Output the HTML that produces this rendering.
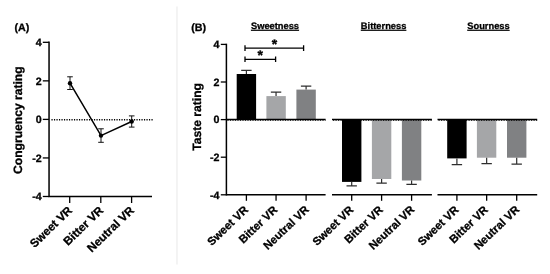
<!DOCTYPE html><html><head><meta charset="utf-8"><style>html,body{margin:0;padding:0;background:#fff}svg{display:block}text{text-rendering:geometricPrecision;font-family:"Liberation Sans",sans-serif;font-weight:bold;fill:#000;stroke:#000;stroke-width:0.3px}</style></head><body>
<svg width="550" height="274" viewBox="0 0 550 274">
<rect width="550" height="274" fill="#fff"/>
<line x1="177" y1="6.5" x2="177" y2="264.5" stroke="#ececec" stroke-width="1.2"/>
<text x="14.4" y="30.9" font-size="10.7">(A)</text>
<g stroke="#000" stroke-width="1.5" fill="none">
<path d="M49.05 41.62V196.48H152"/>
</g><g stroke="#000" stroke-width="1.3" fill="none">
<path d="M49.05 42.32H42.8"/>
<path d="M49.05 80.86H42.8"/>
<path d="M49.05 119.40H42.8"/>
<path d="M49.05 157.94H42.8"/>
<path d="M49.05 196.48H42.8"/>
<path d="M69.7 196.48V203"/>
<path d="M100.8 196.48V203"/>
<path d="M131.6 196.48V203"/>
<path d="M51.449999999999996 119.65H153.2" stroke-width="1.5" stroke-dasharray="1.2 1.3"/>
</g><g stroke="#000" stroke-width="1.5" fill="none">
<path d="M70.0 83.2 L101.0 135.6 L131.7 121.5"/>
</g>
<g stroke="#111" stroke-width="1" fill="none">
<path d="M70.0 76.8V89.5M67.2 76.8h5.6M67.2 89.5h5.6"/>
<path d="M101.0 128.8V142.3M98.2 128.8h5.6M98.2 142.3h5.6"/>
<path d="M131.7 115.9V127.1M128.89999999999998 115.9h5.6M128.89999999999998 127.1h5.6"/>
</g>
<circle cx="70.0" cy="83.2" r="2.2"/>
<circle cx="101.0" cy="135.6" r="2.2"/>
<circle cx="131.7" cy="121.5" r="2.2"/>
<text x="41.7" y="46.1" font-size="10.7" text-anchor="end">4</text>
<text x="41.7" y="84.7" font-size="10.7" text-anchor="end">2</text>
<text x="41.7" y="123.2" font-size="10.7" text-anchor="end">0</text>
<text x="41.7" y="161.7" font-size="10.7" text-anchor="end">-2</text>
<text x="41.7" y="200.3" font-size="10.7" text-anchor="end">-4</text>
<text transform="translate(22 120.2) rotate(-90)" font-size="12.1" text-anchor="middle">Congruency rating</text>
<text transform="translate(72.9 211.3) rotate(-44)" font-size="11.7" text-anchor="end">Sweet VR</text>
<text transform="translate(104.0 211.3) rotate(-44)" font-size="11.7" text-anchor="end">Bitter VR</text>
<text transform="translate(134.79999999999998 211.3) rotate(-44)" font-size="11.7" text-anchor="end">Neutral VR</text>
<text x="191.2" y="30.9" font-size="10.7">(B)</text>
<g stroke="#000" stroke-width="1.5" fill="none">
<path d="M226.4 43.70V195.50"/>
</g><g stroke="#000" stroke-width="1.3" fill="none">
<path d="M226.4 44.40H220.8"/>
<path d="M226.4 82.00H220.8"/>
<path d="M226.4 119.60H220.8"/>
<path d="M226.4 157.20H220.8"/>
<path d="M226.4 194.80H220.8"/>
</g>
<text x="219.4" y="48.2" font-size="10.7" text-anchor="end">4</text>
<text x="219.4" y="85.8" font-size="10.7" text-anchor="end">2</text>
<text x="219.4" y="123.4" font-size="10.7" text-anchor="end">0</text>
<text x="219.4" y="161.0" font-size="10.7" text-anchor="end">-2</text>
<text x="219.4" y="198.6" font-size="10.7" text-anchor="end">-4</text>
<text transform="translate(201.4 116.9) rotate(-90)" font-size="12.1" text-anchor="middle">Taste rating</text>
<rect x="236.7" y="74.0" width="19.4" height="45.6" fill="#000"/>
<path d="M246.4 74.0V70.4M241.20000000000002 70.4h10.4" stroke="#2e2e2e" stroke-width="1.2" fill="none"/>
<rect x="266.4" y="96.1" width="19.4" height="23.5" fill="#a5a6a8"/>
<path d="M276.05 96.1V92.1M270.85 92.1h10.4" stroke="#2e2e2e" stroke-width="1.2" fill="none"/>
<rect x="296.4" y="89.6" width="19.4" height="30.0" fill="#808183"/>
<path d="M306.1 89.6V86.1M300.90000000000003 86.1h10.4" stroke="#2e2e2e" stroke-width="1.2" fill="none"/>
<g stroke="#000" stroke-width="1.5" fill="none">
<path d="M226.4 119.6H325.6M226.4 194.80H325.6"/>
<path d="M227.4 120.3H325.6" stroke-width="1.1" stroke-dasharray="1.2 1.3"/>
</g><g stroke="#000" stroke-width="1.3" fill="none">
<path d="M246.4 194.80V200.8"/>
<path d="M276.05 194.80V200.8"/>
<path d="M306.1 194.80V200.8"/>
</g>
<text x="275" y="28.9" font-size="9.3" text-anchor="middle" text-decoration="underline">Sweetness</text>
<text transform="translate(248.9 210.6) rotate(-43.7)" font-size="11.3" text-anchor="end">Sweet VR</text>
<text transform="translate(278.1 210.6) rotate(-43.7)" font-size="11.3" text-anchor="end">Bitter VR</text>
<text transform="translate(309.6 210.4) rotate(-43.7)" font-size="11.3" text-anchor="end">Neutral VR</text>
<rect x="342.0" y="119.6" width="19.4" height="62.3" fill="#000"/>
<path d="M351.7 181.9V185.9M346.5 185.9h10.4" stroke="#2e2e2e" stroke-width="1.2" fill="none"/>
<rect x="371.9" y="119.6" width="19.4" height="59.4" fill="#a5a6a8"/>
<path d="M381.6 179.0V183.2M376.40000000000003 183.2h10.4" stroke="#2e2e2e" stroke-width="1.2" fill="none"/>
<rect x="401.9" y="119.6" width="19.4" height="60.9" fill="#808183"/>
<path d="M411.6 180.5V184.4M406.40000000000003 184.4h10.4" stroke="#2e2e2e" stroke-width="1.2" fill="none"/>
<g stroke="#000" stroke-width="1.5" fill="none">
<path d="M332 119.6H431.9M332 194.80H431.9"/>
<path d="M333 120.3H431.9" stroke-width="1.1" stroke-dasharray="1.2 1.3"/>
</g><g stroke="#000" stroke-width="1.3" fill="none">
<path d="M351.7 194.80V200.8"/>
<path d="M381.6 194.80V200.8"/>
<path d="M411.6 194.80V200.8"/>
</g>
<text x="383.6" y="28.9" font-size="9.3" text-anchor="middle" text-decoration="underline">Bitterness</text>
<text transform="translate(354.2 210.6) rotate(-43.7)" font-size="11.3" text-anchor="end">Sweet VR</text>
<text transform="translate(383.6 210.6) rotate(-43.7)" font-size="11.3" text-anchor="end">Bitter VR</text>
<text transform="translate(415.1 210.4) rotate(-43.7)" font-size="11.3" text-anchor="end">Neutral VR</text>
<rect x="447.2" y="119.6" width="19.4" height="38.8" fill="#000"/>
<path d="M456.9 158.4V164.7M451.7 164.7h10.4" stroke="#2e2e2e" stroke-width="1.2" fill="none"/>
<rect x="476.9" y="119.6" width="19.4" height="38.1" fill="#a5a6a8"/>
<path d="M486.65 157.7V163.7M481.45 163.7h10.4" stroke="#2e2e2e" stroke-width="1.2" fill="none"/>
<rect x="507.0" y="119.6" width="19.4" height="38.1" fill="#808183"/>
<path d="M516.7 157.7V164.1M511.50000000000006 164.1h10.4" stroke="#2e2e2e" stroke-width="1.2" fill="none"/>
<g stroke="#000" stroke-width="1.5" fill="none">
<path d="M437.5 119.6H537.2M437.5 194.80H537.2"/>
<path d="M438.5 120.3H537.2" stroke-width="1.1" stroke-dasharray="1.2 1.3"/>
</g><g stroke="#000" stroke-width="1.3" fill="none">
<path d="M456.9 194.80V200.8"/>
<path d="M486.65 194.80V200.8"/>
<path d="M516.7 194.80V200.8"/>
</g>
<text x="488.5" y="28.9" font-size="9.3" text-anchor="middle" text-decoration="underline">Sourness</text>
<text transform="translate(459.4 210.6) rotate(-43.7)" font-size="11.3" text-anchor="end">Sweet VR</text>
<text transform="translate(488.6 210.6) rotate(-43.7)" font-size="11.3" text-anchor="end">Bitter VR</text>
<text transform="translate(520.2 210.4) rotate(-43.7)" font-size="11.3" text-anchor="end">Neutral VR</text>
<g stroke="#000" stroke-width="1.3" fill="none">
<path d="M245 48.1H303.6M245 45.3v5.6M303.6 45.3v5.6"/>
<path d="M245 59.3H275.6M245 56.5v5.6M275.6 56.5v5.6"/>
</g>
<text x="274.5" y="48.9" font-size="14" text-anchor="middle">*</text>
<text x="260.3" y="60.1" font-size="14" text-anchor="middle">*</text>
</svg></body></html>
